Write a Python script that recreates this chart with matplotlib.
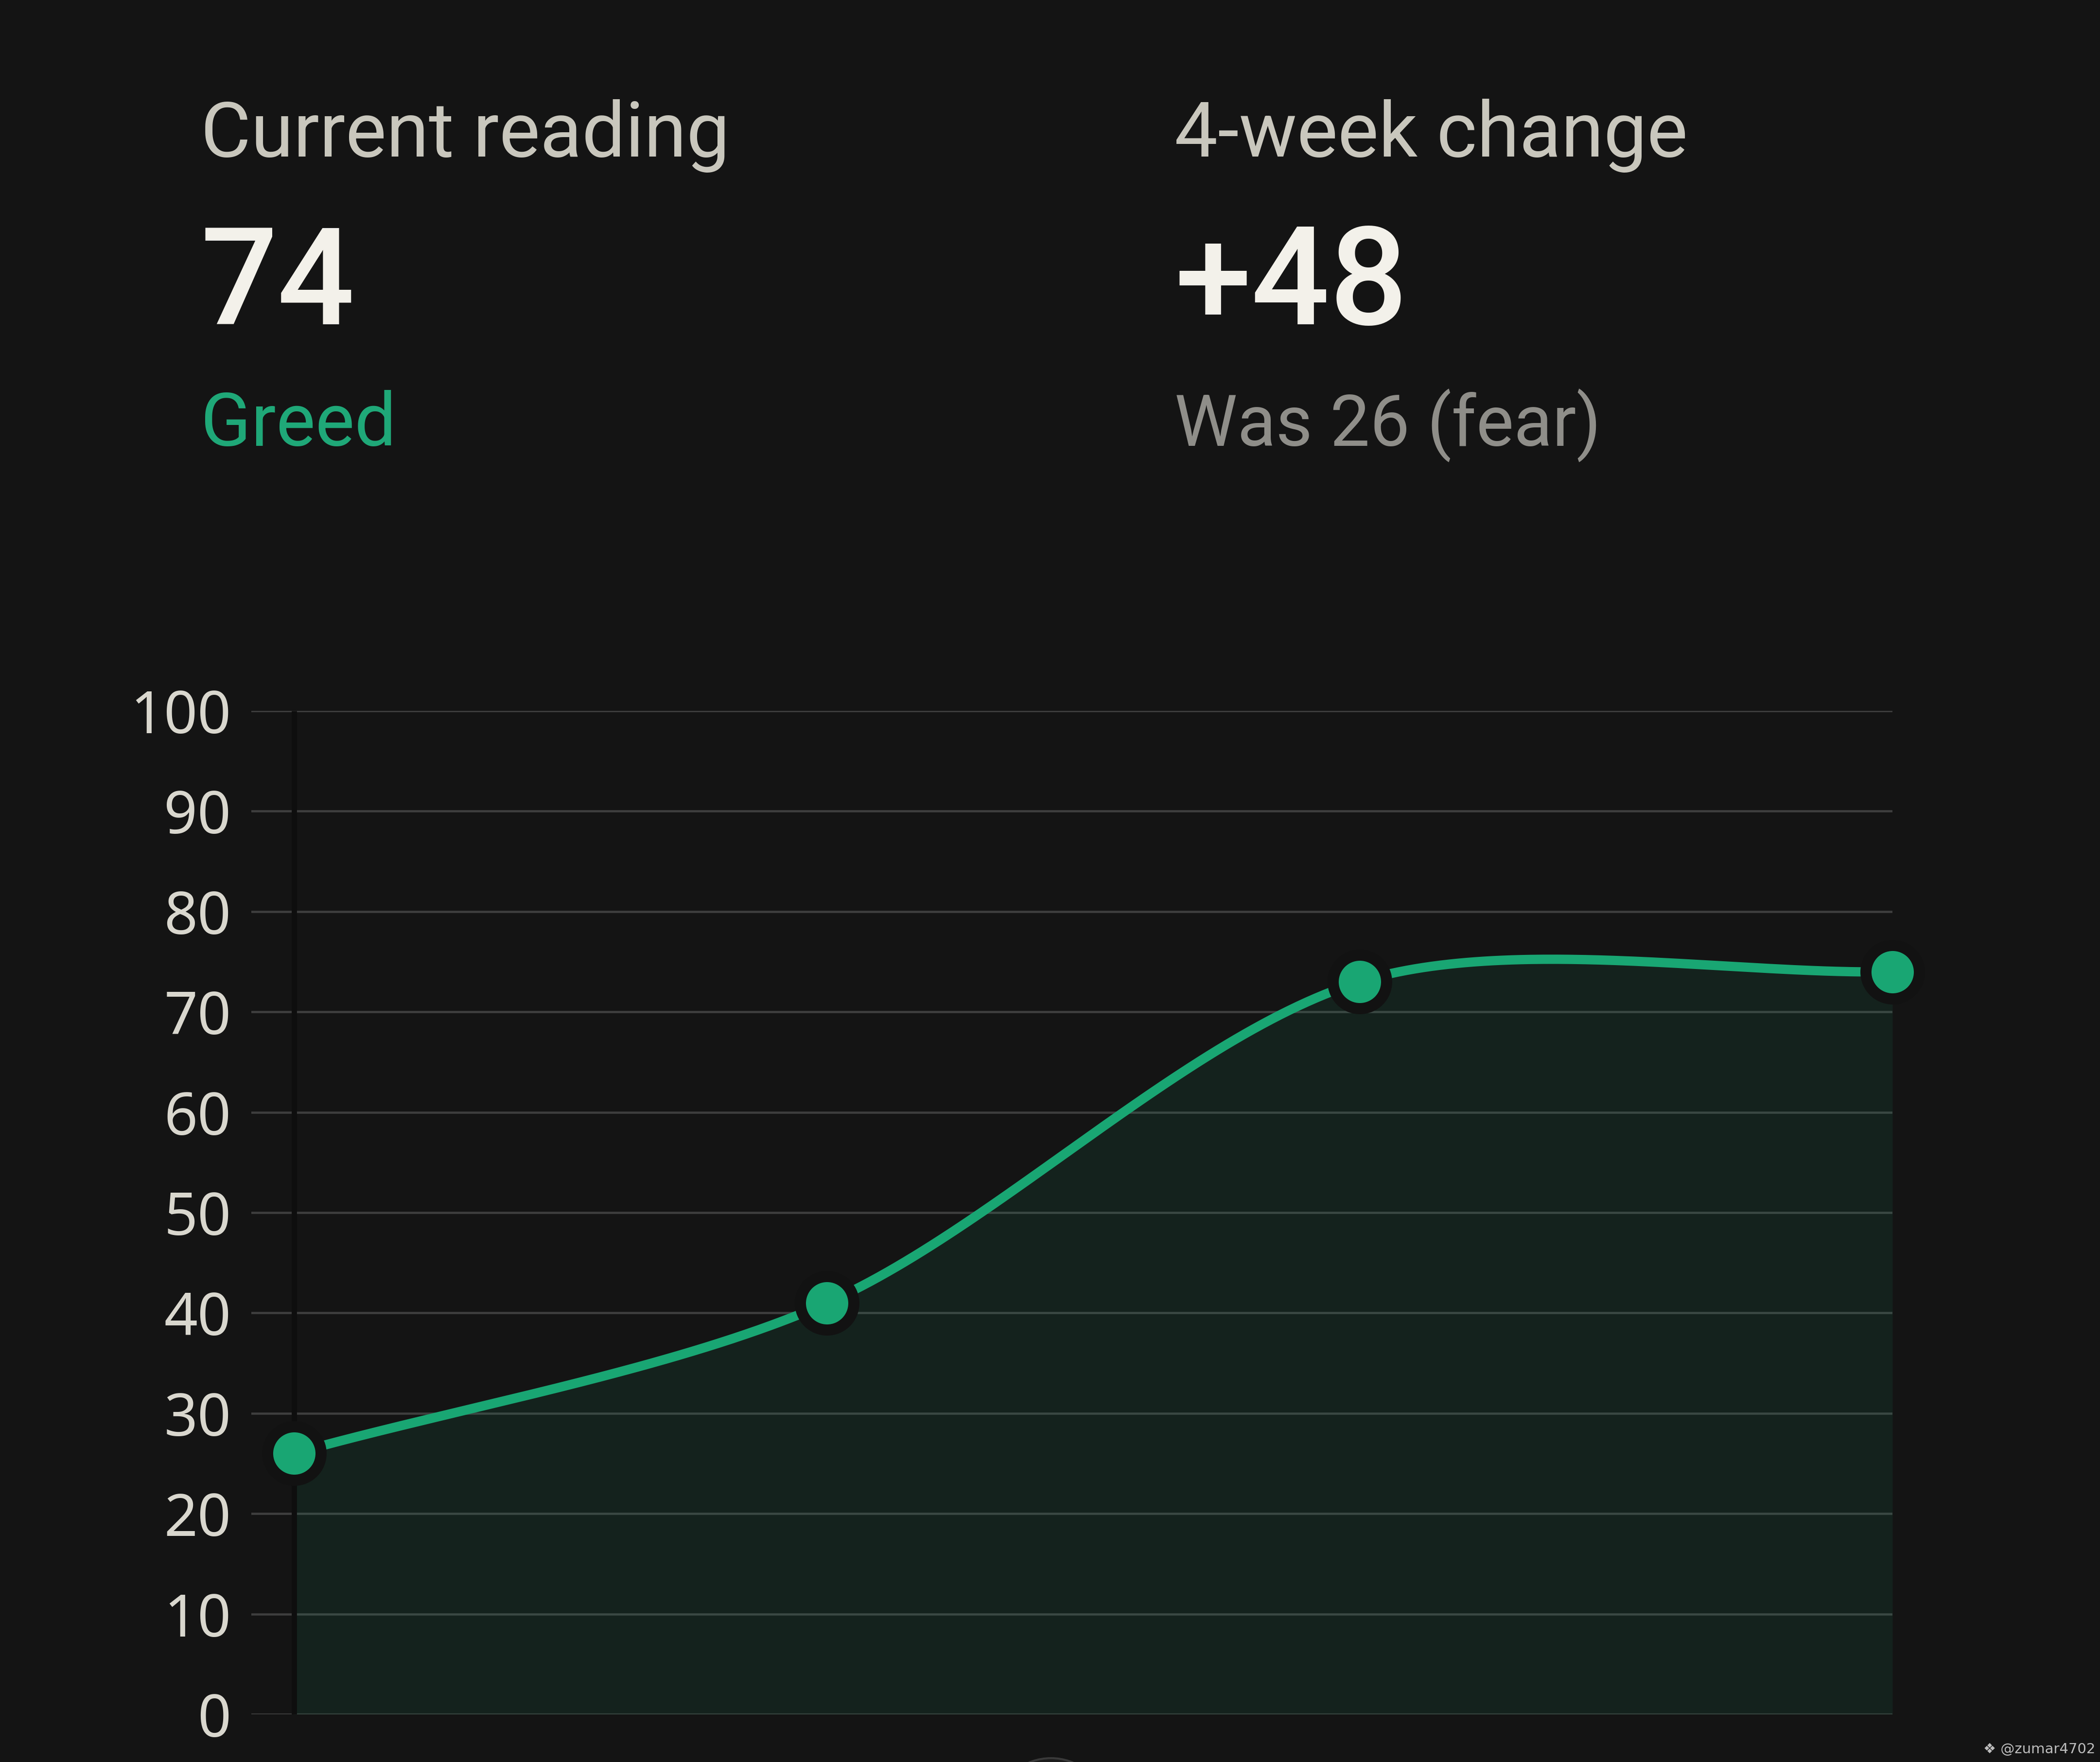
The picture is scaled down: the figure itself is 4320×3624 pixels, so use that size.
import numpy as np
import matplotlib
matplotlib.use("Agg")
import matplotlib.pyplot as plt
from matplotlib.patches import Circle

# ---- data ----
weeks = [0, 1, 2, 3]
readings = [26, 41, 73, 74]
y_ticks = [0, 10, 20, 30, 40, 50, 60, 70, 80, 90, 100]
current_label = "Current reading"
current_value = "74"
current_state = "Greed"
change_label = "4-week change"
change_value = "+48"
change_note = "Was 26 (fear)"
watermark = "@zumar4702"

BG = "#141414"
GREEN = "#19a673"
GRID = "#3e3e3e"
TICK_COLOR = "#d9d7ce"
HEAD_FONT = "Roboto"

W, H = 4320, 3624
DPI = 300
fig = plt.figure(figsize=(W / DPI, H / DPI), dpi=DPI, facecolor=BG)

ax_left, ax_right = 517, 3893
ax_top, ax_bottom = 1462, 3526
ax = fig.add_axes([ax_left / W, (H - ax_bottom) / H, (ax_right - ax_left) / W, (ax_bottom - ax_top) / H])
ax.set_facecolor(BG)

x_unit = (ax_right - 605) / (len(weeks) - 1)
ax.set_xlim((517 - 605) / x_unit, weeks[-1])
ax.set_ylim(0, 100)


def smooth_curve(xs, ys, tension=0.3, sx=1096.0, sy=20.64, n=120):
    px = np.asarray(xs, float) * sx
    py = np.asarray(ys, float) * sy
    m = len(px)
    cp_prev = np.zeros((m, 2))
    cp_next = np.zeros((m, 2))
    for i in range(m):
        p0 = np.array([px[max(i - 1, 0)], py[max(i - 1, 0)]])
        p1 = np.array([px[i], py[i]])
        p2 = np.array([px[min(i + 1, m - 1)], py[min(i + 1, m - 1)]])
        d01 = np.hypot(*(p1 - p0))
        d12 = np.hypot(*(p2 - p1))
        tot = d01 + d12
        s01 = d01 / tot if tot else 0
        s12 = d12 / tot if tot else 0
        cp_prev[i] = p1 - tension * s01 * (p2 - p0)
        cp_next[i] = p1 + tension * s12 * (p2 - p0)
    out_x, out_y = [], []
    s = np.linspace(0, 1, n)
    for i in range(m - 1):
        a = np.array([px[i], py[i]])
        b = cp_next[i]
        c = cp_prev[i + 1]
        d = np.array([px[i + 1], py[i + 1]])
        pts = ((1 - s) ** 3)[:, None] * a + (3 * s * (1 - s) ** 2)[:, None] * b \
            + (3 * s ** 2 * (1 - s))[:, None] * c + (s ** 3)[:, None] * d
        if i > 0:
            pts = pts[1:]
        out_x.append(pts[:, 0] / sx)
        out_y.append(pts[:, 1] / sy)
    return np.concatenate(out_x), np.concatenate(out_y)


cx, cy = smooth_curve(weeks, readings)

# gridlines (extend left as tick marks)
for t in y_ticks:
    ax.axhline(t, color=GRID, lw=1.1, zorder=1)

# area fill
ax.fill_between(cx, cy, 0, color=GREEN, alpha=0.1, lw=0, zorder=2)

# dark vertical axis line at first week
ax.plot([weeks[0], weeks[0]], [0, 100], color="#0e0e0e", lw=2.6, zorder=2.5, solid_capstyle="butt")

# line and markers
ax.plot(cx, cy, color=GREEN, lw=4.6, zorder=3, solid_capstyle="round", clip_on=False)
ax.plot(weeks, readings, "o", ms=26.4, mfc=GREEN, mec="#121212", mew=5.5, zorder=5, clip_on=False)

for side in ax.spines.values():
    side.set_visible(False)
ax.set_xticks([])
ax.set_yticks(y_ticks)
ax.set_yticklabels([str(t) for t in y_ticks], fontfamily="Noto Sans", fontsize=29, color=TICK_COLOR)
ax.tick_params(axis="y", length=0, pad=10)

# header texts
fig.text(413 / W, 1 - 322 / H, current_label, fontfamily=HEAD_FONT, fontsize=38, color="#c9c7bd", ha="left", va="baseline")
fig.text(413 / W, 1 - 667 / H, current_value, fontfamily=HEAD_FONT, fontsize=67, fontweight="medium", color="#f3f1ea", ha="left", va="baseline")
fig.text(413 / W, 1 - 917 / H, current_state, fontfamily=HEAD_FONT, fontsize=36.5, color="#1fa878", ha="left", va="baseline")

fig.text(2416 / W, 1 - 322 / H, change_label, fontfamily=HEAD_FONT, fontsize=38, color="#c9c7bd", ha="left", va="baseline")
fig.text(2416 / W, 1 - 667 / H, change_value, fontfamily=HEAD_FONT, fontsize=68, fontweight="medium", color="#f3f1ea", ha="left", va="baseline")
fig.text(2416 / W, 1 - 917 / H, change_note, fontfamily=HEAD_FONT, fontsize=35, color="#8f8e89", ha="left", va="baseline")

# watermark and bottom UI element
fig.text(4310 / W, 1 - 3598 / H, "\u2756 " + watermark, fontfamily=["DejaVu Sans"], fontsize=7, color="#bdbdbd", ha="right", va="center")
circ = Circle((2162 / W, (H - 3700) / H), 100 / W, transform=fig.transFigure, facecolor="#1c1c1c",
              edgecolor="#3a3a3a", lw=1.0, zorder=0)
fig.patches.append(circ)

fig.savefig("out.png", dpi=DPI, facecolor=BG)
